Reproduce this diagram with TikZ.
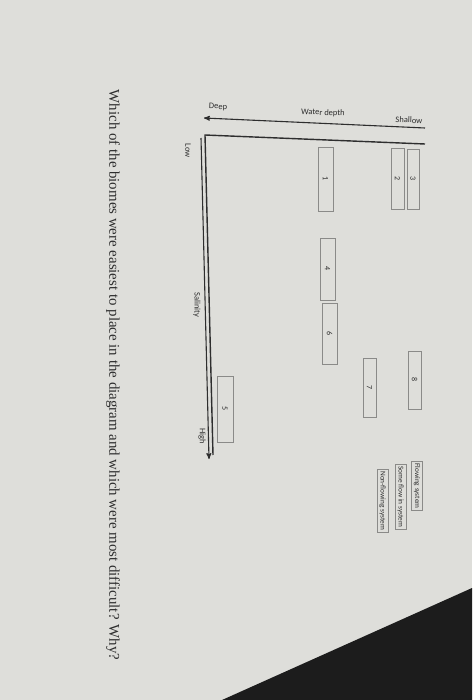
\documentclass[tikz,border=0pt]{standalone}
\usepackage{fontspec}
\setmainfont{Liberation Serif}
\newfontfamily\labelfont{Carlito}
\usetikzlibrary{arrows}
\definecolor{paper}{HTML}{DEDEDA}
\definecolor{ink}{HTML}{2E2E2E}
\definecolor{boxgray}{HTML}{8A8A88}
\definecolor{tabletop}{HTML}{1C1C1C}
\tikzset{
	lbl/.style = {inner sep=0pt, text=ink,
		font=\labelfont\fontsize{8.5}{10}\selectfont},% axis words
	lbl_r/.style = {lbl, rotate=-90},% axis words, turned
	biome/.style = {rectangle, draw=boxgray, line width=0.7pt, rotate=-90,
		inner sep=0pt, text=ink, font=\labelfont\fontsize{8}{9}\selectfont},% biome box
	flowbox/.style = {biome, inner xsep=2pt, minimum height=11pt, anchor=west,
		font=\labelfont\fontsize{7.3}{8}\selectfont}% flow legend box
}
\begin{document}
\begin{tikzpicture}[x=1pt,y=-1pt,>=stealth',
		axis/.style={draw=ink, line width=1.1pt}]
	\fill[paper] (0,0) rectangle (472,700);
	\fill[tabletop] (222,700) -- (472,588) -- (472,700) -- cycle;
	\useasboundingbox (0,0) rectangle (472,700);
	% water depth axis
	\coordinate (shallowEnd) at (425,128);
	\coordinate (deepEnd) at (204,118);
	\draw[->, axis] (shallowEnd) -- (deepEnd);
	\node [lbl, rotate=-2] (deep) at (218,107) {Deep};
	\node [lbl, rotate=-2] (depth) at (323,113) {Water depth};
	\node [lbl, rotate=-2] (shallow) at (409,120) {Shallow};
	% frame
	\coordinate (frameR) at (425,144);
	\coordinate (corner) at (205,135);
	\coordinate (frameB) at (213,455);
	\draw[axis, line width=1.4pt] (frameR) -- (corner) -- (frameB);
	% salinity axis
	\coordinate (lowEnd) at (201,138);
	\coordinate (highEnd) at (209,459);
	\draw[->, axis] (lowEnd) -- (highEnd);
	\node [lbl_r] (low) at (188,151) {Low};
	\node [lbl_r] (salinity) at (197,305) {Salinity};
	\node [lbl_r] (high) at (202,436) {High};
	% biomes
	\node [biome, minimum width=60pt, minimum height=12pt] (b3) at (413,179) {3};
	\node [biome, minimum width=61pt, minimum height=13pt] (b2) at (397.5,178.5) {2};
	\node [biome, minimum width=64pt, minimum height=15pt] (b1) at (325.5,179) {1};
	\node [biome, minimum width=62pt, minimum height=15pt] (b4) at (327.5,269) {4};
	\node [biome, minimum width=61pt, minimum height=15pt] (b6) at (329.5,333.5) {6};
	\node [biome, minimum width=59pt, minimum height=13pt] (b7) at (369.5,387.5) {7};
	\node [biome, minimum width=58pt, minimum height=13pt] (b8) at (414.5,380) {8};
	\node [biome, minimum width=66pt, minimum height=16pt] (b5) at (225,409) {5};
	% flow legend
	\node [flowbox] (flowing) at (417,461) {Flowing system};
	\node [flowbox] (someflow) at (400.5,464) {Some flow in system};
	\node [flowbox] (nonflow) at (382.5,469) {Non-flowing system};
	% question
	\node [rotate=-90, text=ink, inner sep=0pt, font=\fontsize{14.9}{17}\selectfont]
		(question) at (113,375) {Which of the biomes were easiest to place in the diagram and which were most difficult? Why?};
\end{tikzpicture}
\end{document}
